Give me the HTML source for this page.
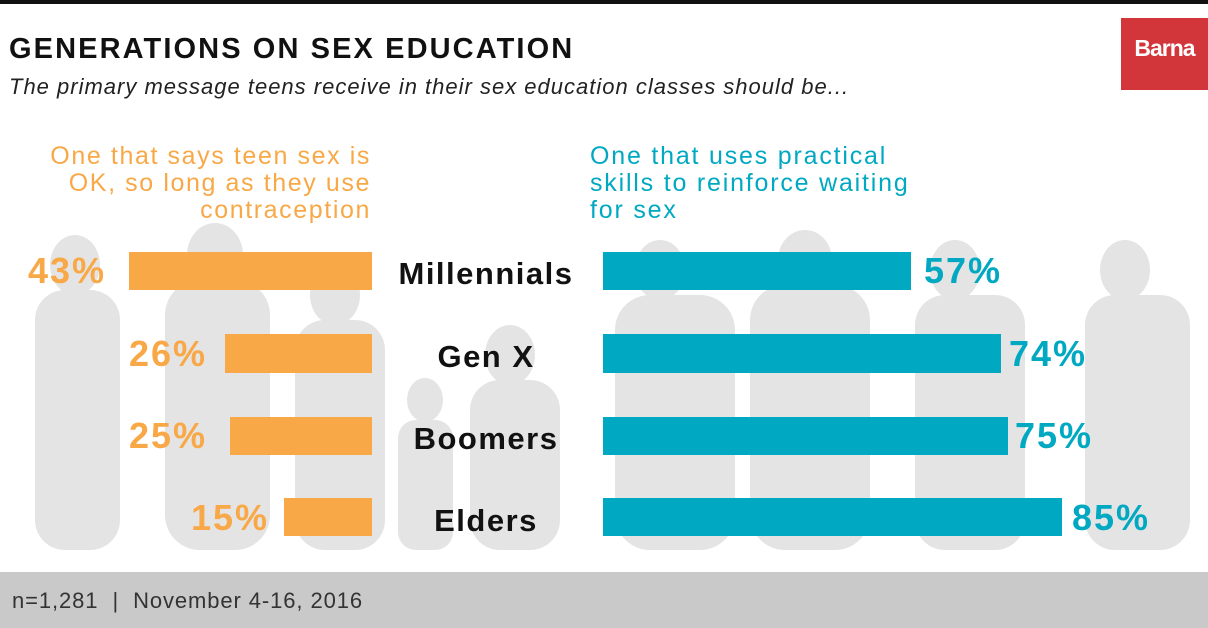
<!DOCTYPE html>
<html><head><meta charset="utf-8"><style>
body{margin:0;width:1208px;height:628px;position:relative;overflow:hidden;background:#fff;font-family:"Liberation Sans",sans-serif}
.a{position:absolute}
.o{background:#f8a846}.b{background:#00a9c1}
.pl{font-weight:bold;font-size:36px;color:#f8a846;position:absolute;letter-spacing:2px}
.pr{font-weight:bold;font-size:36px;color:#00a9c1;position:absolute;letter-spacing:2px}
.g{font-weight:bold;font-size:31px;color:#111;position:absolute;width:240px;text-align:center;left:366px;letter-spacing:1.5px}
</style></head><body>
<div class="a" style="left:0;top:0;width:1208px;height:4px;background:#111"></div>
<svg class="a" style="left:0;top:0" width="1208" height="628">
<g fill="#e4e4e4">
<ellipse cx="75" cy="265" rx="25" ry="30"/><rect x="35" y="290" width="85" height="260" rx="30"/>
<ellipse cx="215" cy="255" rx="28" ry="32"/><rect x="165" y="280" width="105" height="270" rx="35"/>
<ellipse cx="335" cy="295" rx="25" ry="30"/><rect x="295" y="320" width="90" height="230" rx="30"/>
<ellipse cx="425" cy="400" rx="18" ry="22"/><rect x="398" y="420" width="55" height="130" rx="18"/>
<ellipse cx="510" cy="355" rx="25" ry="30"/><rect x="470" y="380" width="90" height="170" rx="30"/>
<ellipse cx="660" cy="270" rx="25" ry="30"/><rect x="615" y="295" width="120" height="255" rx="35"/>
<ellipse cx="805" cy="260" rx="27" ry="30"/><rect x="750" y="285" width="120" height="265" rx="35"/>
<ellipse cx="955" cy="270" rx="25" ry="30"/><rect x="915" y="295" width="110" height="255" rx="30"/>
<ellipse cx="1125" cy="270" rx="25" ry="30"/><rect x="1085" y="295" width="105" height="255" rx="30"/>
</g></svg>
<div class="a" style="left:9px;top:33px;font-size:29px;font-weight:bold;color:#111;letter-spacing:2.1px">GENERATIONS ON SEX EDUCATION</div>
<div class="a" style="left:9px;top:74px;font-size:22px;font-style:italic;color:#222;letter-spacing:1px">The primary message teens receive in their sex education classes should be...</div>
<div class="a" style="left:1121px;top:18px;width:87px;height:72px;background:#d2363b;color:#fff;font-weight:bold;font-size:23px;text-align:center;line-height:60px;letter-spacing:-1px">Barna</div>
<div class="a" style="left:0px;top:143px;width:371px;text-align:right;font-size:25px;line-height:27px;color:#f8a846;letter-spacing:1.6px">One that says teen sex is<br>OK, so long as they use<br>contraception</div>
<div class="a" style="left:590px;top:143px;font-size:25px;line-height:27px;color:#00a9c1;letter-spacing:1.8px">One that uses practical<br>skills to reinforce waiting<br>for sex</div>

<div class="a o" style="left:129px;top:252px;width:243px;height:38px"></div>
<div class="a o" style="left:225px;top:334px;width:147px;height:39px"></div>
<div class="a o" style="left:230px;top:417px;width:142px;height:38px"></div>
<div class="a o" style="left:284px;top:498px;width:88px;height:38px"></div>
<div class="a b" style="left:603px;top:252px;width:308px;height:38px"></div>
<div class="a b" style="left:603px;top:334px;width:398px;height:39px"></div>
<div class="a b" style="left:603px;top:417px;width:405px;height:38px"></div>
<div class="a b" style="left:603px;top:498px;width:459px;height:38px"></div>

<div class="pl" style="left:28px;top:250px">43%</div>
<div class="pl" style="left:129px;top:333px">26%</div>
<div class="pl" style="left:129px;top:415px">25%</div>
<div class="pl" style="left:191px;top:497px">15%</div>
<div class="pr" style="left:924px;top:250px">57%</div>
<div class="pr" style="left:1009px;top:333px">74%</div>
<div class="pr" style="left:1015px;top:415px">75%</div>
<div class="pr" style="left:1072px;top:497px">85%</div>

<div class="g" style="top:256px">Millennials</div>
<div class="g" style="top:339px">Gen X</div>
<div class="g" style="top:421px">Boomers</div>
<div class="g" style="top:503px">Elders</div>

<div class="a" style="left:0;top:572px;width:1208px;height:56px;background:#c9c9c9"></div>
<div class="a" style="left:12px;top:588px;font-size:22px;color:#333;letter-spacing:0.9px">n=1,281 &nbsp;| &nbsp;November 4-16, 2016</div>
</body></html>
